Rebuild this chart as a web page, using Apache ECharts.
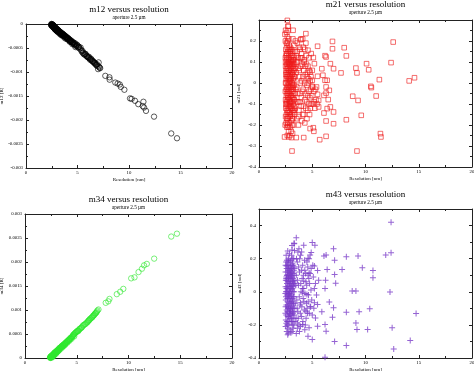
<!DOCTYPE html>
<html>
<head>
<meta charset="utf-8">
<script src="https://cdn.jsdelivr.net/npm/echarts@6/dist/echarts.min.js"></script>
<style>html,body{margin:0;padding:0;background:#fff}#c{width:474px;height:371px}</style>
</head>
<body>
<div id="c"></div>
<script>
// ---- text ----
const titles = ["m12 versus resolution", "m21 versus resolution", "m34 versus resolution", "m43 versus resolution"];
const subtitle = "aperture 2.5 \u00b5m";
const xName = "Resolution [nm]";
const yNames = ["m12 [R]", "m21 [rad]", "m34 [R]", "m43 [rad]"];

// ---- data: [resolution, value] ----
const m12 = [
[2.42,0.000005],[2.45,-0.00001],[2.48,0.000002],[2.5,-0.00002],[2.52,-0.000008],[2.55,-0.00003],[2.57,-0.00001],[2.6,-0.00004],[2.62,-0.00002],[2.64,-0.00005],
[2.66,-0.00003],[2.68,-0.00006],[2.7,-0.00004],[2.72,-0.00007],[2.74,-0.00005],[2.76,-0.00008],[2.78,-0.00006],[2.8,-0.00009],[2.83,-0.00007],[2.85,-0.0001],
[2.87,-0.00008],[2.9,-0.00011],[2.92,-0.00009],[2.95,-0.00012],[2.97,-0.0001],[3.0,-0.00013],[3.02,-0.00011],[3.05,-0.00014],[3.08,-0.00012],[3.1,-0.00015],
[3.13,-0.00013],[3.16,-0.00016],[3.2,-0.00015],[3.24,-0.00017],[3.28,-0.00016],[3.32,-0.00019],[3.36,-0.00017],[3.4,-0.0002],[3.45,-0.00019],[3.5,-0.00022],
[3.55,-0.0002],[3.6,-0.00023],[3.65,-0.00022],[3.7,-0.00025],[3.76,-0.00024],[3.82,-0.00027],[3.88,-0.00026],[3.94,-0.00029],[4.0,-0.00028],[4.06,-0.00031],
[4.12,-0.0003],[4.2,-0.00034],[4.27,-0.00033],[4.35,-0.00037],[4.42,-0.00035],[4.5,-0.00039],[4.58,-0.00038],[4.66,-0.00042],[4.75,-0.0004],[4.85,-0.00045],
[4.95,-0.00043],[5.05,-0.00049],[5.15,-0.00048],[5.3,-0.00049],[5.4,-0.00057],[5.5,-0.0006],[5.62,-0.00063],[5.75,-0.00062],[5.85,-0.00066],[5.95,-0.00068],
[6.05,-0.0007],[6.15,-0.00071],[6.25,-0.00075],[6.35,-0.00074],[6.45,-0.00078],[6.55,-0.00079],[6.65,-0.00082],[6.75,-0.00083],[6.85,-0.00086],[6.95,-0.00088],
[7.05,-0.0008],[7.0,-0.00094],[7.15,-0.00091],[7.7,-0.00108],[8.1,-0.00111],[8.12,-0.00116],[8.67,-0.00122],[8.9,-0.00124],[9.1,-0.00126],[9.2,-0.00131],
[9.55,-0.00137],[10.1,-0.00155],[10.26,-0.00156],[10.58,-0.0016],[10.9,-0.00167],[11.33,-0.00171],[11.4,-0.00162],[11.46,-0.00174],[11.65,-0.00181],[12.43,-0.00193],
[14.1,-0.00228],[14.66,-0.00238],
[2.5,-0.00004],[2.6,-0.00006],[2.7,-0.00008],[2.8,-0.00011],[2.9,-0.00013],[3.0,-0.00015],[3.1,-0.00017],[3.25,-0.0002],[3.4,-0.00023],[3.6,-0.00026],
[3.8,-0.0003],[4.0,-0.00032],[4.25,-0.00037],[4.5,-0.00042],[4.8,-0.00048],
[2.44,-0.00002],[2.47,-0.00003],[2.53,-0.00001],[2.56,-0.00004],[2.59,-0.00002],[2.61,-0.00005],[2.63,-0.00003],[2.67,-0.00005],[2.69,-0.00007],[2.71,-0.00005],
[2.73,-0.00008],[2.75,-0.00006],[2.77,-0.00009],[2.79,-0.00007],[2.81,-0.0001],[2.84,-0.00008],[2.86,-0.00011],[2.88,-0.00009],[2.91,-0.00012],[2.94,-0.0001],
[2.96,-0.00013],[2.99,-0.00011],[3.01,-0.00014],[3.04,-0.00012],[3.07,-0.00015],[3.11,-0.00013],[3.14,-0.00016],[3.18,-0.00014],[3.22,-0.00017],[3.26,-0.00018],
[3.3,-0.00017],[3.34,-0.0002],[3.38,-0.00018],[3.42,-0.00021],[3.48,-0.0002],[3.52,-0.00023],[3.58,-0.00021],[3.63,-0.00024],[3.68,-0.00023],[3.73,-0.00026],
[3.79,-0.00025],[3.85,-0.00028],[3.91,-0.00027],[3.97,-0.0003],[4.03,-0.00029],[4.09,-0.00032],[4.16,-0.00031],[4.23,-0.00035],[4.31,-0.00034],[4.38,-0.00037],
[4.46,-0.00037],[4.54,-0.0004],[4.62,-0.00039],[4.7,-0.00043],[4.8,-0.00042],[4.9,-0.00046],[5.0,-0.00045],[5.1,-0.00047],[5.2,-0.00051],[5.35,-0.00054],
[5.48,-0.00056],[5.58,-0.0006],[5.7,-0.00064],[5.8,-0.00063],[5.9,-0.00067],[6.0,-0.00069],[6.1,-0.00068],[6.2,-0.00073],[6.3,-0.00072],[6.4,-0.00076],
[6.5,-0.00077],[6.6,-0.0008],[6.7,-0.00081],[6.8,-0.00085],[6.9,-0.00084],[7.1,-0.00089],[7.2,-0.00092]
];
const m34 = [
[2.42,0.00001],[2.45,0.0],[2.48,0.00002],[2.5,0.00001],[2.52,0.00003],[2.55,0.00002],[2.58,0.00004],[2.6,0.00003],[2.63,0.00005],[2.65,0.00004],
[2.68,0.00006],[2.7,0.00005],[2.73,0.00007],[2.75,0.00006],[2.78,0.00008],[2.8,0.00008],[2.83,0.0001],[2.86,0.00009],[2.9,0.00011],[2.93,0.0001],
[2.96,0.00012],[3.0,0.00012],[3.04,0.00014],[3.08,0.00013],[3.12,0.00015],[3.16,0.00016],[3.2,0.00017],[3.25,0.00017],[3.3,0.00019],[3.35,0.0002],
[3.4,0.00021],[3.46,0.00022],[3.52,0.00023],[3.58,0.00024],[3.64,0.00026],[3.7,0.00027],[3.77,0.00028],[3.84,0.0003],[3.9,0.00031],[3.97,0.00032],
[4.05,0.00034],[4.12,0.00035],[4.2,0.00037],[4.28,0.00039],[4.36,0.0004],[4.45,0.00042],[4.54,0.00044],[4.62,0.00046],[4.7,0.00049],[4.8,0.00051],
[4.9,0.00053],[5.0,0.00055],[5.1,0.00057],[5.2,0.00058],[5.3,0.00061],[5.45,0.00063],[5.55,0.00066],[5.7,0.00069],[5.85,0.00071],[6.0,0.00074],
[6.1,0.00077],[6.2,0.00079],[6.3,0.00082],[6.45,0.00084],[6.55,0.00087],[6.65,0.00089],[6.75,0.00092],[6.85,0.00094],[6.95,0.00097],[7.1,0.00101],
[7.8,0.00115],[8.05,0.00118],[8.16,0.00123],[8.87,0.00133],[9.2,0.00138],[9.5,0.00144],[10.26,0.00166],[10.58,0.00168],[10.97,0.00179],[11.3,0.00186],
[11.5,0.00193],[11.77,0.00196],[12.48,0.00207],[14.13,0.00253],[14.68,0.00259],
[2.5,0.00003],[2.6,0.00001],[2.7,0.00003],[2.8,0.00005],[2.9,0.00008],[3.0,0.00009],[3.1,0.00012],[3.2,0.00014],[3.3,0.00016],[3.45,0.00019],
[3.6,0.00022],[3.75,0.00025],[3.9,0.00028],[4.1,0.00032],[4.3,0.00036],[4.5,0.0004],[4.75,0.00045],
[2.43,0.00002],[2.46,0.00001],[2.49,0.00003],[2.51,0.00002],[2.54,0.00004],[2.57,0.00003],[2.59,0.00005],[2.62,0.00004],[2.64,0.00006],[2.67,0.00005],
[2.69,0.00007],[2.72,0.00006],[2.74,0.00008],[2.77,0.00007],[2.79,0.00009],[2.82,0.00008],[2.85,0.00011],[2.88,0.0001],[2.91,0.00012],[2.95,0.00011],
[2.98,0.00013],[3.02,0.00012],[3.06,0.00015],[3.1,0.00014],[3.14,0.00016],[3.18,0.00015],[3.22,0.00018],[3.28,0.00018],[3.33,0.00021],[3.38,0.0002],
[3.43,0.00022],[3.49,0.00023],[3.55,0.00025],[3.61,0.00024],[3.67,0.00027],[3.73,0.00026],[3.8,0.00029],[3.87,0.00029],[3.94,0.00032],[4.01,0.00033],
[4.08,0.00035],[4.16,0.00036],[4.24,0.00038],[4.32,0.00039],[4.4,0.00042],[4.49,0.00043],[4.58,0.00045],[4.66,0.00048],[4.75,0.00049],[4.85,0.00052],
[4.95,0.00054],[5.05,0.00056],[5.15,0.00056],[5.25,0.0006],[5.38,0.00062],[5.5,0.00064],[5.62,0.00068],[5.78,0.0007],[5.92,0.00073],[6.05,0.00075],
[6.15,0.00078],[6.25,0.0008],[6.38,0.00083],[6.5,0.00085],[6.6,0.00088],[6.7,0.0009],[6.8,0.00093],[6.9,0.00095],[7.0,0.00099]
];
const m21 = [
[2.55,0.13],[2.6,0.11],[2.65,0.09],[2.7,0.07],[2.58,0.05],[2.62,0.03],[2.68,0.01],[2.72,-0.01],[2.56,-0.03],[2.64,-0.05],
[2.7,-0.07],[2.6,-0.09],[2.66,-0.11],[2.74,-0.13],[2.58,-0.15],[2.68,-0.17],[2.76,0.12],[2.8,0.1],[2.84,0.08],[2.78,0.06],
[2.82,0.04],[2.86,0.02],[2.8,0.0],[2.76,-0.02],[2.84,-0.04],[2.88,-0.06],[2.8,-0.08],[2.86,-0.1],[2.78,-0.12],[2.9,-0.14],
[2.82,-0.16],[2.94,0.14],[2.98,0.11],[2.92,0.09],[3.0,0.07],[2.96,0.05],[3.04,0.03],[2.94,0.01],[3.02,-0.02],[2.98,-0.04],
[3.06,-0.06],[2.92,-0.09],[3.0,-0.11],[3.08,-0.13],[2.96,-0.15],[3.04,-0.18],[3.1,0.13],[3.14,0.1],[3.18,0.08],[3.12,0.05],
[3.2,0.02],[3.16,-0.01],[3.22,-0.03],[3.14,-0.07],[3.2,-0.1],[3.12,-0.12],[3.26,-0.14],[3.18,-0.17],[3.24,-0.2],[3.3,0.12],
[3.34,0.09],[3.28,0.06],[3.36,0.03],[3.3,-0.01],[3.38,-0.05],[3.32,-0.08],[3.4,-0.12],[3.36,-0.15],[2.52,0.16],[2.58,0.19],
[2.64,0.17],[2.7,0.2],[2.76,0.16],[2.82,0.18],[2.88,0.15],[2.94,0.17],[3.0,0.15],[2.55,-0.19],[2.62,-0.21],[2.7,-0.2],
[2.78,-0.23],[2.86,-0.19],[2.94,-0.21],[3.02,-0.23],[3.1,-0.2],[2.6,0.24],[2.66,0.22],[2.74,0.25],[2.8,0.21],[2.48,0.12],
[2.5,0.08],[2.52,0.04],[2.5,0.0],[2.48,-0.04],[2.5,-0.08],[2.52,-0.12],[2.48,0.2],[2.5,-0.16],[2.46,-0.2],[2.55,0.02],
[2.57,-0.06],[2.63,0.07],[2.67,-0.03],[2.73,0.03],[2.77,-0.05],[2.83,0.06],[2.87,-0.02],[2.93,0.04],[2.97,-0.07],[3.03,0.09],
[3.07,0.0],[3.13,0.0],[3.17,0.04],[3.23,0.07],[3.27,-0.08],[2.61,0.14],[2.69,-0.14],[2.79,0.14],[2.89,-0.11],[2.99,0.12],
[3.09,-0.09],[3.19,0.11],[3.29,-0.11],[2.66,-0.25],[2.9,-0.25],[3.05,-0.26],[3.15,-0.24],[2.72,0.27],[3.18,0.21],[3.28,0.18],
[3.36,0.15],[3.42,0.2],[3.5,0.13],
[3.5,0.05],[3.55,-0.02],[3.6,0.1],[3.65,-0.09],[3.7,0.07],[3.75,-0.13],[3.8,0.03],[3.85,-0.05],[3.9,0.12],[3.95,-0.11],
[4.0,0.01],[4.05,0.09],[4.1,-0.15],[4.15,-0.03],[4.2,0.06],[4.25,0.11],[4.3,-0.08],[4.35,0.04],[4.4,-0.12],[4.45,0.09],
[4.5,-0.01],[4.55,0.05],[4.6,-0.06],[4.65,0.02],[4.7,-0.1],[4.75,-0.15],[4.8,0.01],[4.85,-0.03],[4.95,-0.06],[5.05,-0.02],
[5.15,-0.04],[5.2,-0.09],[5.3,-0.03],[5.35,-0.08],[3.6,0.19],[3.8,0.17],[4.0,0.14],[4.3,0.16],[3.7,-0.2],[4.0,-0.18],
[4.3,-0.19],[4.5,-0.17],[3.55,-0.17],[4.4,0.19],[4.6,0.08],[4.7,0.12],[3.95,0.21],[4.1,0.21],
[12.6,0.195],[12.4,0.097],[14.1,0.01],[14.6,0.025],[11.3,0.016],[10.5,-0.016],[10.55,-0.022],[11.0,-0.062],[11.4,-0.241],[11.45,-0.257],
[10.1,0.092],[10.3,0.063],[9.1,0.071],[9.2,0.048],[8.8,-0.063],[9.3,-0.083],[9.6,-0.154],[9.2,-0.324],[8.2,-0.175],[8.0,0.168],
[8.2,0.129],[7.7,0.048],[6.9,0.198],[6.9,0.163],[6.7,0.092],[7.0,0.068],[7.0,-0.138],[7.0,-0.194],[6.3,-0.181],[6.3,-0.254],
[5.7,-0.27],[5.5,0.175],[5.1,-0.213],[5.15,-0.23],[4.8,-0.217],[4.2,-0.26],[3.5,-0.26],[3.1,-0.324],[4.4,0.235],[3.9,0.206],
[3.2,0.251],[2.44,0.232],[2.5,0.251],[2.66,0.298],[2.75,0.27],[2.4,-0.257],[2.8,-0.257],[2.75,-0.21],[6.2,0.13],[6.3,0.124],
[5.9,0.068],[6.0,0.037],[6.2,0.013],[6.4,0.013],[6.3,-0.019],[6.3,-0.048],[6.6,-0.035],[6.1,-0.059],[6.5,-0.079],[6.7,-0.114],
[6.4,-0.122],[6.1,-0.143],[5.6,-0.114],[5.6,-0.083],[5.5,-0.054],[5.4,-0.019],[5.0,-0.016],[5.2,0.092],[4.9,0.14],[4.6,0.156],
[5.1,0.121],[5.5,0.032],[4.8,0.052],[5.0,0.013],
[2.5,0.1],[2.54,0.06],[2.56,0.0],[2.58,-0.1],[2.62,0.09],[2.6,-0.02],[2.64,0.12],[2.66,0.04],[2.68,-0.08],[2.62,-0.13],
[2.7,0.15],[2.72,0.1],[2.74,0.05],[2.7,-0.04],[2.76,-0.1],[2.72,-0.16],[2.78,0.02],[2.8,-0.03],[2.82,0.12],[2.84,-0.07],
[2.86,0.09],[2.88,0.03],[2.9,-0.09],[2.92,0.06],[2.94,-0.02],[2.96,0.1],[2.98,-0.12],[3.0,0.02],[3.02,-0.06],[3.04,0.11],
[3.06,0.06],[3.08,-0.03],[3.1,-0.15],[3.12,0.08],[3.14,-0.04],[3.16,0.15],[3.18,-0.07],[3.2,0.05],[3.22,-0.13],[3.24,0.09],
[3.26,0.01],[3.28,-0.05],[2.53,-0.1],[2.57,0.14],[2.61,-0.17],[2.65,0.19],[2.69,-0.19],[2.73,-0.06],[2.77,0.09],[2.81,-0.14],
[2.85,0.16],[2.89,0.01],[2.93,-0.16],[2.97,0.08],[3.01,-0.09],[3.05,0.16],[3.09,0.04],[3.13,-0.17],[3.17,0.13],[3.21,-0.02],
[3.25,0.11],[3.3,0.03],[3.35,-0.13],[3.4,0.07],[3.45,-0.03],[3.48,0.1],
[3.52,-0.09],[3.58,0.15],[3.62,-0.05],[3.68,0.12],[3.72,-0.16],[3.78,0.06],[3.82,-0.09],[3.88,0.0],[3.92,0.08],[3.98,-0.07],
[4.02,0.12],[4.08,-0.04],[4.12,0.03],[4.18,-0.11],[4.22,0.1],[4.28,0.0],[4.32,0.08],[4.38,-0.05],[4.42,0.13],[4.48,-0.09],
[4.52,0.03],[4.58,-0.13],[4.62,0.0],[4.68,-0.04],[4.72,0.06],[4.78,-0.07],[4.82,-0.12],[4.88,0.03],[4.92,-0.1],[5.0,0.06],
[5.08,-0.1],[5.25,-0.12],[5.45,-0.1],[4.2,-0.15],[3.85,0.16],[4.15,0.17]
];
const m43 = [
[2.55,0.18],[2.6,0.14],[2.65,0.1],[2.7,0.06],[2.58,0.02],[2.62,-0.02],[2.68,-0.06],[2.72,-0.1],[2.56,-0.14],[2.64,-0.18],
[2.7,-0.22],[2.76,0.2],[2.8,0.16],[2.84,0.12],[2.78,0.08],[2.82,0.04],[2.86,0.0],[2.8,-0.04],[2.76,-0.08],[2.84,-0.12],
[2.88,-0.16],[2.8,-0.2],[2.94,0.18],[2.98,0.14],[2.92,0.1],[3.0,0.06],[2.96,0.02],[3.04,-0.02],[2.94,-0.06],[3.02,-0.1],
[2.98,-0.14],[3.06,-0.18],[2.92,-0.23],[3.1,0.16],[3.14,0.12],[3.18,0.08],[3.12,0.04],[3.2,0.0],[3.16,-0.04],[3.22,-0.08],
[3.14,-0.12],[3.2,-0.16],[3.12,-0.2],[3.26,0.2],[3.3,0.1],[3.34,0.05],[3.28,-0.03],[3.36,-0.1],[3.3,-0.14],[3.38,-0.18],
[2.5,0.12],[2.52,0.07],[2.5,0.03],[2.48,-0.01],[2.52,-0.05],[2.5,-0.09],[2.48,-0.13],[2.52,-0.17],[2.5,-0.21],[2.55,0.22],
[2.6,0.0],[2.63,0.05],[2.67,-0.12],[2.73,0.13],[2.77,-0.15],[2.83,0.03],[2.87,-0.07],[2.93,0.08],[2.97,-0.1],[3.03,0.12],
[3.07,-0.05],[3.13,0.17],[3.17,-0.1],[3.23,0.03],[3.27,-0.2],[2.61,-0.24],[2.74,-0.25],[2.86,0.23],[3.05,0.22],[3.25,0.15],
[2.69,0.16],[2.79,-0.01],[2.89,-0.04],[2.99,0.0],[3.09,0.09],[3.19,-0.13],[3.29,0.07],[2.57,0.09],[2.71,-0.03],[2.91,-0.18],
[3.01,0.19],[3.11,-0.24],[3.21,-0.22],[3.33,0.25],[3.1,0.28],[3.3,0.29],
[3.5,0.1],[3.55,-0.05],[3.6,0.18],[3.65,-0.12],[3.7,0.04],[3.75,-0.2],[3.8,0.12],[3.85,-0.08],[3.9,0.22],[3.95,0.0],
[4.0,-0.15],[4.05,0.08],[4.1,0.16],[4.15,-0.04],[4.2,0.02],[4.25,-0.11],[4.3,0.13],[4.35,-0.2],[4.4,0.06],[4.45,-0.07],
[4.5,0.18],[4.55,-0.13],[4.6,0.1],[4.65,-0.02],[4.75,0.05],[4.85,-0.09],[4.9,0.14],[5.0,-0.14],[5.1,0.09],[5.2,0.02],
[3.6,-0.22],[3.9,-0.21],[4.7,0.2],[3.75,0.26],
[12.4,0.42],[12.4,0.236],[11.9,0.222],[12.3,-0.002],[12.65,-0.345],[14.2,-0.295],[14.75,-0.131],[12.5,-0.218],[10.4,-0.103],[10.2,-0.228],
[10.7,0.085],[10.7,0.129],[9.7,0.145],[9.3,0.216],[9.1,0.004],[8.75,0.004],[9.4,-0.121],[9.1,-0.188],[9.2,-0.228],[8.2,-0.123],
[8.2,-0.325],[8.2,0.212],[7.8,0.135],[7.1,-0.301],[7.0,0.26],[7.1,0.19],[7.1,0.105],[7.2,0.052],[6.9,-0.154],[7.0,-0.097],
[6.6,-0.061],[6.2,-0.396],[6.3,-0.238],[6.2,-0.198],[5.9,-0.121],[6.2,0.02],[6.25,0.07],[6.4,0.135],[6.3,0.222],[6.1,0.216],
[5.5,-0.077],[5.5,-0.208],[5.0,-0.289],[4.6,-0.269],[5.0,0.297],[5.25,0.281],[4.9,0.238],[4.2,0.281],[3.5,0.327],[3.3,0.293],
[3.1,0.252],[2.7,0.246],[2.6,0.155],[2.7,-0.259],[3.0,-0.248],[3.5,-0.252],[3.6,-0.188],[4.1,-0.198],[4.7,-0.218],[4.4,-0.117],
[4.8,-0.091],[5.2,-0.067],[5.3,-0.158],[5.6,0.069],[5.5,0.129],[5.2,0.156],[4.6,0.202],[4.8,0.222],[4.7,0.115],[4.2,0.065],
[4.1,-0.006],[4.5,-0.016],[3.9,-0.067],
[2.5,0.16],[2.54,0.0],[2.56,0.08],[2.58,-0.08],[2.62,0.1],[2.6,-0.11],[2.64,0.03],[2.66,-0.04],[2.68,0.12],[2.62,0.19],
[2.7,-0.15],[2.72,0.02],[2.74,0.08],[2.7,-0.09],[2.76,-0.02],[2.72,0.18],[2.78,0.14],[2.8,0.06],[2.82,-0.1],[2.84,0.09],
[2.86,-0.13],[2.88,0.05],[2.9,-0.01],[2.92,0.15],[2.94,-0.11],[2.96,0.11],[2.98,-0.03],[3.0,0.09],[3.02,-0.16],[3.04,0.03],
[3.06,0.14],[3.08,-0.09],[3.1,0.01],[3.12,-0.06],[3.14,0.07],[3.16,0.2],[3.18,-0.18],[3.2,0.11],[3.22,-0.03],[3.24,0.06],
[3.26,-0.12],[3.28,0.13],[2.53,-0.03],[2.57,-0.19],[2.61,0.07],[2.65,-0.2],[2.69,0.01],[2.73,-0.18],[2.77,0.1],[2.81,0.19],
[2.85,-0.02],[2.89,0.13],[2.93,-0.13],[2.97,0.05],[3.01,-0.07],[3.05,0.1],[3.09,-0.14],[3.13,0.02],[3.17,0.05],[3.21,0.16],
[3.25,-0.07],[3.3,0.0],[3.35,0.14],[3.4,-0.07],[3.45,0.04],[3.48,-0.16],
[3.52,0.2],[3.58,-0.1],[3.62,0.07],[3.68,-0.16],[3.72,0.15],[3.78,-0.03],[3.82,0.2],[3.88,-0.13],[3.92,0.05],[3.98,0.13],
[4.02,-0.09],[4.08,0.02],[4.12,-0.18],[4.18,0.1],[4.22,-0.06],[4.28,0.19],[4.32,-0.01],[4.38,0.11],[4.42,-0.16],[4.48,0.04],
[4.52,-0.1],[4.58,0.15],[4.62,-0.06],[4.68,0.08],[4.72,-0.13],[4.8,0.11],[4.88,0.01],[4.95,-0.05],[5.05,0.16],[5.15,-0.1],
[5.3,0.05],[5.4,-0.02],[3.65,0.24],[4.0,0.24],[3.8,-0.24],[4.3,-0.23]
];

// ---- axis ranges ----
const xRange = {min: 0, max: 20, interval: 5};
const yRanges = [
  {min: -0.003, max: 0, interval: 0.0005},
  {min: -0.4, max: 0.3, interval: 0.1},
  {min: 0, max: 0.003, interval: 0.0005},
  {min: -0.4, max: 0.5, interval: 0.2}
];

const grids = [
  {left: 26, right: 242, top: 24, bottom: 203, outerBoundsMode: 'none', containLabel: false},
  {left: 259, right: 2, top: 20, bottom: 204, outerBoundsMode: 'none', containLabel: false},
  {left: 25, right: 242, top: 214, bottom: 13, outerBoundsMode: 'none', containLabel: false},
  {left: 259, right: 2, top: 209, bottom: 13, outerBoundsMode: 'none', containLabel: false}
];
const titlePos = [
  {cx: 129, top: 5},
  {cx: 365.5, top: 0.5},
  {cx: 128.5, top: 195.5},
  {cx: 365.5, top: 190.5}
];
const yNameGaps = [20, 18, 21, 17];

const FONT = "Liberation Serif";
const LINE = "#222";

function xAxisFor(i, mirror) {
  return Object.assign({
    type: 'value', gridIndex: i, position: mirror ? 'top' : 'bottom',
    axisLine: {show: true, onZero: false, lineStyle: {color: LINE, width: 1}},
    axisTick: {show: true, inside: true, length: 3, lineStyle: {color: LINE}},
    minorTick: {show: true, splitNumber: 2, length: 2, lineStyle: {color: LINE}},
    splitLine: {show: false},
    axisLabel: {show: !mirror, inside: false, align: 'center', verticalAlign: 'top',
      fontSize: 4.8, fontFamily: FONT, color: '#000', margin: 2},
    name: mirror ? '' : xName, nameLocation: 'middle', nameGap: 9,
    nameTextStyle: {fontSize: 5, fontFamily: FONT, color: '#000'}
  }, xRange);
}
function yAxisFor(i, mirror) {
  const r = yRanges[i];
  return {
    type: 'value', gridIndex: i, position: mirror ? 'right' : 'left',
    min: r.min, max: r.max, interval: r.interval,
    axisLine: {show: true, onZero: false, lineStyle: {color: LINE, width: 1}},
    axisTick: {show: true, inside: true, length: 3, lineStyle: {color: LINE}},
    minorTick: {show: true, splitNumber: 2, length: 2, lineStyle: {color: LINE}},
    splitLine: {show: false},
    axisLabel: {
      show: !mirror, inside: false, align: 'right', verticalAlign: 'middle',
      fontSize: 4.8, fontFamily: FONT, color: '#000', margin: 3,
      formatter: function (v) {
        if (i === 1 && v > 0.25) return '';
        if (i === 3 && v > 0.45) return '';
        return String(+v.toPrecision(6));
      }
    },
    name: mirror ? '' : yNames[i], nameLocation: 'middle', nameGap: yNameGaps[i], nameRotate: 90,
    nameTextStyle: {fontSize: 5, fontFamily: FONT, color: '#000'}
  };
}

const xAxes = [], yAxes = [];
for (let i = 0; i < 4; i++) {
  xAxes.push(xAxisFor(i, false)); xAxes.push(xAxisFor(i, true));
  yAxes.push(yAxisFor(i, false)); yAxes.push(yAxisFor(i, true));
}

const titleOpts = titles.map((t, i) => ({
  text: t, subtext: subtitle,
  left: titlePos[i].cx, top: titlePos[i].top, textAlign: 'center',
  padding: 0, itemGap: 1,
  textStyle: {fontSize: 9, fontWeight: 'normal', fontFamily: FONT, color: '#000'},
  subtextStyle: {fontSize: 5.2, fontFamily: FONT, color: '#000'}
}));

const plusPath = 'path://M5,0h2v5h5v2h-5v5h-2v-5h-5v-2h5z';

const series = [
  {type: 'scatter', xAxisIndex: 0, yAxisIndex: 0, data: m12, symbol: 'circle', symbolSize: 5.4,
   itemStyle: {color: 'transparent', borderColor: '#000', borderWidth: 0.8}},
  {type: 'scatter', xAxisIndex: 2, yAxisIndex: 2, data: m21, symbol: 'rect', symbolSize: 4.6,
   itemStyle: {color: 'transparent', borderColor: '#ee1c1c', borderWidth: 0.8}},
  {type: 'scatter', xAxisIndex: 4, yAxisIndex: 4, data: m34, symbol: 'circle', symbolSize: 5.4,
   itemStyle: {color: 'transparent', borderColor: '#2ee82e', borderWidth: 0.8}},
  {type: 'scatter', xAxisIndex: 6, yAxisIndex: 6, data: m43, symbol: plusPath, symbolSize: 6,
   itemStyle: {color: '#7a3cc8'}}
];

const chart = echarts.init(document.getElementById('c'), null, {renderer: 'canvas'});
chart.setOption({
  animation: false,
  backgroundColor: '#fff',
  title: titleOpts,
  grid: grids,
  xAxis: xAxes,
  yAxis: yAxes,
  series: series
});
</script>
</body>
</html>
